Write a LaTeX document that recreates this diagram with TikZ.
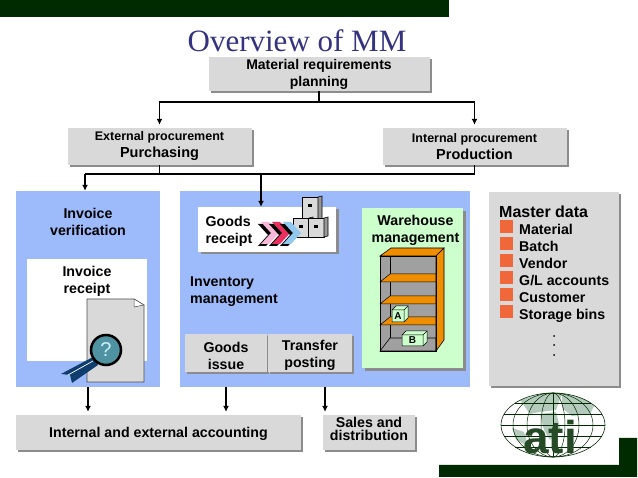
\documentclass[tikz,border=0pt]{standalone}
\usepackage{fontspec}
\setmainfont{Liberation Sans}
\newfontfamily\titlefont{Liberation Serif}
\usetikzlibrary{arrows.meta,shadows}
\definecolor{barcol}{HTML}{002A00}
\definecolor{titlecol}{HTML}{333380}
\definecolor{boxcol}{HTML}{D9D9D9}
\definecolor{edgecol}{HTML}{8C8C8C}
\definecolor{panelcol}{HTML}{9DBBFB}
\definecolor{wmcol}{HTML}{CCFFCC}
\definecolor{shelfcol}{HTML}{EE8E00}
\definecolor{rackcol}{HTML}{A0A0A0}
\definecolor{bulletcol}{HTML}{F0683A}
\definecolor{landcol}{HTML}{B4CABD}
\definecolor{lenscol}{HTML}{4F93A3}
\definecolor{handlecol}{HTML}{0F3D6E}
\definecolor{chevpink}{HTML}{F8B8D8}
\definecolor{chevred}{HTML}{E83060}
\definecolor{chevblue}{HTML}{90C8F0}
\tikzset{
  plate/.style={inner sep=0pt,align=center,font=\bfseries\fontsize{14.2}{17}\selectfont,text=black,execute at begin node={\rule{0pt}{13pt}}},
  panel/.style={plate,fill=panelcol},
  graybox/.style={plate,fill=boxcol,general shadow={shadow xshift=2pt,shadow yshift=-2pt,fill=edgecol}},
  procbox/.style={graybox,minimum width=184,minimum height=37,font=\bfseries\fontsize{12.5}{17}\selectfont},
  link/.style={line width=1.6pt,draw=black},
  linkarrow/.style={link,-{Latex[length=6pt,width=6pt]}},
  crate/.style={fill=boxcol,draw=black,line width=.6pt},
}
\begin{document}
\begin{tikzpicture}[x=1pt,y=-1pt]
\useasboundingbox (0,0) rectangle (638,478);
\fill[barcol] (0,0) rectangle (449,17);
\fill[barcol] (439,465) -- (619,465) -- (619,438) -- (637,438) -- (637,477) -- (439,477) -- cycle;
\node[text=titlecol,font=\titlefont\fontsize{31}{34}\selectfont] (title) at (297,41) {Overview of MM};
% top row
\node[graybox,minimum width=221,minimum height=34,font=\bfseries\fontsize{14}{17}\selectfont] (mrp) at (319,74) {Material requirements\\planning};
\node[procbox] (ext) at (159.5,146.5) {External procurement\\{\fontsize{14.5}{17}\selectfont Purchasing}};
\node[procbox] (int) at (474.5,146.5) {Internal procurement\\{\fontsize{14.5}{17}\selectfont Production}};
% panels
\node[panel,minimum width=144,minimum height=196] (inv) at (88,289) {};
\node[panel,minimum width=290,minimum height=196] (inm) at (325,289) {};
\node[plate,fill=white,minimum width=120,minimum height=102] (rcpt) at (87,310) {};
\node[plate] (invt) at (88,222) {Invoice\\verification};
\node[plate] (rcptt) at (87,281) {Invoice\\receipt};
\node[plate,align=left,anchor=west] (inmt) at (190,291.5) {Inventory\\management};
% invoice sheet
\filldraw[fill=boxcol,draw=black!70,line width=.7pt] (87,299) -- (134,299) -- (144,305) -- (144,382) -- (87,382) -- cycle;
\filldraw[fill=white,draw=black!70,line width=.5pt] (134,299) -- (144,305) -- (134,307) -- cycle;
\fill[handlecol] (61,374) -- (93,357) -- (98,365) -- (72,383) -- (70,375) -- cycle;
\draw[white,line width=.7pt] (68,375) -- (93,361);
\node[circle,fill=lenscol,draw=black,line width=2.5pt,minimum size=30,inner sep=0pt,text=white!80!cyan,font=\fontsize{20}{20}\selectfont] (lens) at (106,350) {?};
% goods receipt
\node[plate,fill=white,minimum width=138,minimum height=45,general shadow={shadow xshift=2.5pt,shadow yshift=-2.5pt,fill=edgecol}] (gr) at (267,229.5) {};
\node[plate,align=left,anchor=west] (grt) at (205.5,231.5) {Goods\\receipt};
\foreach \x/\y/\h in {302/197/23,293/218/19,308/218/19}{
  \filldraw[crate] (\x,\y) rectangle ++(16,\h);
  \filldraw[fill=boxcol!70!black,draw=black,line width=.6pt] (\x+16,\y) -- ++(4,-1) -- ++(0,\h) -- ++(-4,1) -- cycle;
  \fill[black] (\x+6,\y+7) rectangle ++(4,3);
}
\foreach \x/\col in {261/chevpink,272/chevred,283/chevblue}{
  \fill[black,shift={(-3,2)}] (\x,222) -- ++(8,0) -- ++(10,11) -- ++(-10,11) -- ++(-8,0) -- ++(10,-11) -- cycle;
  \fill[\col] (\x,222) -- ++(8,0) -- ++(10,11) -- ++(-10,11) -- ++(-8,0) -- ++(10,-11) -- cycle;
}
% warehouse
\node[plate,fill=wmcol,minimum width=101,minimum height=160,general shadow={shadow xshift=3pt,shadow yshift=-3pt,fill=edgecol}] (wm) at (412.5,288) {};
\node[plate] (wmt) at (415.5,230.5) {Warehouse\\management};
\fill[rackcol] (380,256) rectangle (436,351);
\filldraw[fill=rackcol,draw=black,line width=.6pt] (380,351) -- (390,338) -- (436,338) -- (436,351) -- cycle;
\draw[black,line width=.6pt] (390,256) -- (390,338);
\foreach \y in {282,304,325}{
  \filldraw[fill=shelfcol,draw=black,line width=.5pt] (380,\y) -- (390,\y-8) -- (436,\y-8) -- (436,\y) -- cycle;
}
\filldraw[fill=shelfcol,draw=black,line width=.6pt] (380,256) -- (391,248) -- (444,248) -- (436,256) -- cycle;
\filldraw[fill=shelfcol,draw=black,line width=.6pt] (436,256) -- (444,248) -- (444,340) -- (436,351) -- cycle;
\draw[black,line width=.8pt] (380,256) rectangle (436,351);
\filldraw[fill=wmcol,draw=black,line width=.5pt] (392,310) -- (396,306) -- (408,306) -- (408,318) -- (404,322) -- (392,322) -- cycle;
\draw[black,line width=.5pt] (392,310) -- (404,310) -- (408,306) (404,310) -- (404,322);
\node[inner sep=0pt,font=\bfseries\fontsize{10}{10}\selectfont] (boxa) at (398,316.5) {A};
\filldraw[fill=wmcol,draw=black,line width=.5pt] (402,335) -- (406,331) -- (427,331) -- (427,342) -- (423,346) -- (402,346) -- cycle;
\draw[black,line width=.5pt] (402,335) -- (423,335) -- (427,331) (423,335) -- (423,346);
\node[inner sep=0pt,font=\bfseries\fontsize{10}{10}\selectfont] (boxb) at (412.5,340.5) {B};
% issue and posting
\node[graybox,minimum width=82,minimum height=38] (gi) at (226,353) {\rule{0pt}{16pt}Goods\\issue};
\node[graybox,minimum width=84,minimum height=38] (tp) at (310,353) {\rule{0pt}{16pt}Transfer\\posting};
% master data
\node[plate,fill=boxcol,minimum width=130,minimum height=194,general shadow={shadow xshift=2pt,shadow yshift=-2pt,fill=edgecol}] (md) at (554,289) {};
\node[plate,anchor=west,font=\bfseries\fontsize{16}{16}\selectfont] (mdt) at (499,211.5) {Master data};
\foreach \row/\lab in {0/Material,1/Batch,2/Vendor,3/G\slash L accounts,4/Customer,5/Storage bins}{
  \fill[bulletcol] (500,220+17*\row) rectangle ++(13,13);
  \node[plate,anchor=base west] at (519,234.5+17*\row) {\lab};
}
\foreach \y in {336,345,355}{
  \fill[black] (554,\y) circle (1pt);
}
% bottom row
\node[graybox,minimum width=285,minimum height=35] (acc) at (158.5,432.5) {Internal and external accounting};
\node[graybox,minimum width=92,minimum height=35,font=\bfseries\fontsize{14.2}{13.5}\selectfont] (sd) at (369,432.5) {Sales and\\distribution\rule[-7pt]{0pt}{0pt}};
% logo
\begin{scope}
\clip (553,425) circle [x radius=52,y radius=32];
\fill[landcol] (520,400) -- (548,392) -- (562,394) -- (556,410) -- (540,412) -- (530,414) -- cycle;
\fill[landcol] (562,393) -- (596,402) -- (590,414) -- (572,416) -- (562,408) -- cycle;
\fill[landcol] (540,414) -- (556,412) -- (560,428) -- (550,440) -- (544,430) -- cycle;
\fill[landcol] (512,428) -- (524,432) -- (528,446) -- (516,440) -- cycle;
\end{scope}
\draw[barcol,line width=.6pt] (553,425) circle [x radius=52,y radius=32];
\foreach \xr in {12,26,40}{
  \draw[barcol,line width=.5pt] (553,425) circle [x radius=\xr,y radius=32];
}
\draw[barcol,line width=.5pt] (553,393) -- (553,457);
\foreach \lat/\half in {-22/38,-11/49,0/52,11/49,22/38}{
  \draw[barcol,line width=.5pt] (553-\half,425+\lat) -- (553+\half,425+\lat);
}
\node[inner sep=0pt,text=barcol!85!white,font=\bfseries\fontsize{46}{46}\selectfont] (logo) at (550,437) {ati};
% connectors
\coordinate (busl) at (85,174);
\coordinate (busm) at (261,174);
\coordinate (salesout) at (325,387);
\coordinate (recvout) at (226,387);
\draw[link] (mrp.south) -- ++(0,11) coordinate (mrpj);
\draw[linkarrow,shorten >=3pt] (mrpj) -| (ext.north);
\draw[linkarrow,shorten >=3pt] (mrpj) -| (int.north);
\draw[link] (ext.south) |- (busl);
\draw[link] (int.south) |- (busl);
\draw[linkarrow] (busl) -- (inv.north -| busl);
\draw[linkarrow] (busm) -- (gr.north -| busm);
\draw[linkarrow,shorten >=3pt] (inv.south) -- (acc.north -| inv.south);
\draw[linkarrow,shorten >=3pt] (recvout) -- (acc.north -| recvout);
\draw[linkarrow,shorten >=3pt] (salesout) -- (sd.north -| salesout);
\end{tikzpicture}
\end{document}
